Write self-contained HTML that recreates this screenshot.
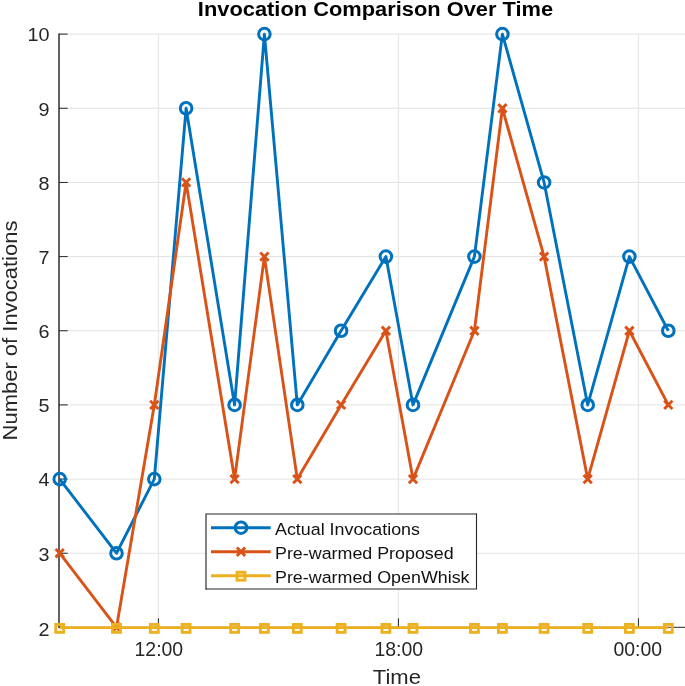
<!DOCTYPE html>
<html lang="en"><head><meta charset="utf-8"><title>Invocation Comparison Over Time</title>
<style>html,body{margin:0;padding:0;background:#fff;overflow:hidden}svg{display:block}text{font-family:"Liberation Sans",Arial,Helvetica,sans-serif;fill:#262626}</style></head><body>
<svg width="685" height="686" viewBox="0 0 685 686">
<rect width="685" height="686" fill="#fff"/>
<g stroke="#e2e2e2" stroke-width="1">
<line x1="158.4" y1="34.12" x2="158.4" y2="627.4"/>
<line x1="398.4" y1="34.12" x2="398.4" y2="627.4"/>
<line x1="638.4" y1="34.12" x2="638.4" y2="627.4"/>
<line x1="59" y1="553.24" x2="685" y2="553.24"/>
<line x1="59" y1="479.08" x2="685" y2="479.08"/>
<line x1="59" y1="404.92" x2="685" y2="404.92"/>
<line x1="59" y1="330.76" x2="685" y2="330.76"/>
<line x1="59" y1="256.6" x2="685" y2="256.6"/>
<line x1="59" y1="182.44" x2="685" y2="182.44"/>
<line x1="59" y1="108.28" x2="685" y2="108.28"/>
<line x1="59" y1="34.12" x2="685" y2="34.12"/>
</g>
<g stroke="#262626" stroke-width="1">
<line x1="59" y1="33.62" x2="59" y2="627.8" stroke-width="1.45"/>
<line x1="58.5" y1="627.3" x2="685" y2="627.3"/>
<line x1="158.4" y1="618.3" x2="158.4" y2="627.4"/>
<line x1="398.4" y1="618.3" x2="398.4" y2="627.4"/>
<line x1="638.4" y1="618.3" x2="638.4" y2="627.4"/>
<line x1="59" y1="627.4" x2="67.7" y2="627.4"/>
<line x1="59" y1="553.24" x2="67.7" y2="553.24"/>
<line x1="59" y1="479.08" x2="67.7" y2="479.08"/>
<line x1="59" y1="404.92" x2="67.7" y2="404.92"/>
<line x1="59" y1="330.76" x2="67.7" y2="330.76"/>
<line x1="59" y1="256.6" x2="67.7" y2="256.6"/>
<line x1="59" y1="182.44" x2="67.7" y2="182.44"/>
<line x1="59" y1="108.28" x2="67.7" y2="108.28"/>
<line x1="59" y1="34.12" x2="67.7" y2="34.12"/>
</g>
<text transform="translate(49.6,635.6) scale(1.03,1)" font-size="19.2" text-anchor="end">2</text>
<text transform="translate(49.6,560.5) scale(1.03,1)" font-size="19.2" text-anchor="end">3</text>
<text transform="translate(49.6,486.4) scale(1.03,1)" font-size="19.2" text-anchor="end">4</text>
<text transform="translate(49.6,412.2) scale(1.03,1)" font-size="19.2" text-anchor="end">5</text>
<text transform="translate(49.6,338.1) scale(1.03,1)" font-size="19.2" text-anchor="end">6</text>
<text transform="translate(49.6,263.9) scale(1.03,1)" font-size="19.2" text-anchor="end">7</text>
<text transform="translate(49.6,189.7) scale(1.03,1)" font-size="19.2" text-anchor="end">8</text>
<text transform="translate(49.6,115.6) scale(1.03,1)" font-size="19.2" text-anchor="end">9</text>
<text transform="translate(49.6,41.4) scale(1.03,1)" font-size="19.2" text-anchor="end">10</text>
<text transform="translate(158.85,656.2) scale(1.008,1)" font-size="19.3" text-anchor="middle">12:00</text>
<text transform="translate(398.8,656.2) scale(1.008,1)" font-size="19.3" text-anchor="middle">18:00</text>
<text transform="translate(637.7,656.2) scale(1.008,1)" font-size="19.3" text-anchor="middle">00:00</text>
<text transform="translate(396.9,684.3) scale(1.075,1)" font-size="20.5" text-anchor="middle">Time</text>
<text transform="translate(17,330.5) rotate(-90) scale(1.072,1)" font-size="20.5" text-anchor="middle">Number of Invocations</text>
<text transform="translate(375.45,16.3) scale(1.0406,1)" font-size="21.0" text-anchor="middle" font-weight="bold" style="fill:#000">Invocation Comparison Over Time</text>
<polyline points="59.7,479.08 116.5,553.24 154.3,479.08 186.1,108.28 234.6,404.92 264.4,34.12 297.3,404.92 341.1,330.76 385.9,256.6 413.0,404.92 474.4,256.6 502.4,34.12 544.1,182.44 587.7,404.92 629.4,256.6 668.3,330.76" fill="none" stroke="#0072BD" stroke-width="2.9" stroke-linejoin="round"/>
<circle cx="59.7" cy="479.08" r="5.8" fill="none" stroke="#0072BD" stroke-width="3.0"/>
<circle cx="116.5" cy="553.24" r="5.8" fill="none" stroke="#0072BD" stroke-width="3.0"/>
<circle cx="154.3" cy="479.08" r="5.8" fill="none" stroke="#0072BD" stroke-width="3.0"/>
<circle cx="186.1" cy="108.28" r="5.8" fill="none" stroke="#0072BD" stroke-width="3.0"/>
<circle cx="234.6" cy="404.92" r="5.8" fill="none" stroke="#0072BD" stroke-width="3.0"/>
<circle cx="264.4" cy="34.12" r="5.8" fill="none" stroke="#0072BD" stroke-width="3.0"/>
<circle cx="297.3" cy="404.92" r="5.8" fill="none" stroke="#0072BD" stroke-width="3.0"/>
<circle cx="341.1" cy="330.76" r="5.8" fill="none" stroke="#0072BD" stroke-width="3.0"/>
<circle cx="385.9" cy="256.6" r="5.8" fill="none" stroke="#0072BD" stroke-width="3.0"/>
<circle cx="413.0" cy="404.92" r="5.8" fill="none" stroke="#0072BD" stroke-width="3.0"/>
<circle cx="474.4" cy="256.6" r="5.8" fill="none" stroke="#0072BD" stroke-width="3.0"/>
<circle cx="502.4" cy="34.12" r="5.8" fill="none" stroke="#0072BD" stroke-width="3.0"/>
<circle cx="544.1" cy="182.44" r="5.8" fill="none" stroke="#0072BD" stroke-width="3.0"/>
<circle cx="587.7" cy="404.92" r="5.8" fill="none" stroke="#0072BD" stroke-width="3.0"/>
<circle cx="629.4" cy="256.6" r="5.8" fill="none" stroke="#0072BD" stroke-width="3.0"/>
<circle cx="668.3" cy="330.76" r="5.8" fill="none" stroke="#0072BD" stroke-width="3.0"/>
<polyline points="59.7,553.24 116.5,627.4 154.3,404.92 186.1,182.44 234.6,479.08 264.4,256.6 297.3,479.08 341.1,404.92 385.9,330.76 413.0,479.08 474.4,330.76 502.4,108.28 544.1,256.6 587.7,479.08 629.4,330.76 668.3,404.92" fill="none" stroke="#D95319" stroke-width="2.9" stroke-linejoin="round"/>
<path d="M55.55 549.09L63.85 557.39M55.55 557.39L63.85 549.09" fill="none" stroke="#D95319" stroke-width="2.9"/>
<path d="M112.35 623.25L120.65 631.55M112.35 631.55L120.65 623.25" fill="none" stroke="#D95319" stroke-width="2.9"/>
<path d="M150.15 400.77L158.45 409.07M150.15 409.07L158.45 400.77" fill="none" stroke="#D95319" stroke-width="2.9"/>
<path d="M181.95 178.29L190.25 186.59M181.95 186.59L190.25 178.29" fill="none" stroke="#D95319" stroke-width="2.9"/>
<path d="M230.45 474.93L238.75 483.23M230.45 483.23L238.75 474.93" fill="none" stroke="#D95319" stroke-width="2.9"/>
<path d="M260.25 252.45L268.55 260.75M260.25 260.75L268.55 252.45" fill="none" stroke="#D95319" stroke-width="2.9"/>
<path d="M293.15 474.93L301.45 483.23M293.15 483.23L301.45 474.93" fill="none" stroke="#D95319" stroke-width="2.9"/>
<path d="M336.95 400.77L345.25 409.07M336.95 409.07L345.25 400.77" fill="none" stroke="#D95319" stroke-width="2.9"/>
<path d="M381.75 326.61L390.05 334.91M381.75 334.91L390.05 326.61" fill="none" stroke="#D95319" stroke-width="2.9"/>
<path d="M408.85 474.93L417.15 483.23M408.85 483.23L417.15 474.93" fill="none" stroke="#D95319" stroke-width="2.9"/>
<path d="M470.25 326.61L478.55 334.91M470.25 334.91L478.55 326.61" fill="none" stroke="#D95319" stroke-width="2.9"/>
<path d="M498.25 104.13L506.55 112.43M498.25 112.43L506.55 104.13" fill="none" stroke="#D95319" stroke-width="2.9"/>
<path d="M539.95 252.45L548.25 260.75M539.95 260.75L548.25 252.45" fill="none" stroke="#D95319" stroke-width="2.9"/>
<path d="M583.55 474.93L591.85 483.23M583.55 483.23L591.85 474.93" fill="none" stroke="#D95319" stroke-width="2.9"/>
<path d="M625.25 326.61L633.55 334.91M625.25 334.91L633.55 326.61" fill="none" stroke="#D95319" stroke-width="2.9"/>
<path d="M664.15 400.77L672.45 409.07M664.15 409.07L672.45 400.77" fill="none" stroke="#D95319" stroke-width="2.9"/>
<line x1="59.7" y1="627.6" x2="668.3" y2="627.6" stroke="#EDB120" stroke-width="2.9"/>
<rect x="55.75" y="624.45" width="7.9" height="7.9" fill="none" stroke="#EDB120" stroke-width="2.9"/>
<rect x="112.55" y="624.45" width="7.9" height="7.9" fill="none" stroke="#EDB120" stroke-width="2.9"/>
<rect x="150.35" y="624.45" width="7.9" height="7.9" fill="none" stroke="#EDB120" stroke-width="2.9"/>
<rect x="182.15" y="624.45" width="7.9" height="7.9" fill="none" stroke="#EDB120" stroke-width="2.9"/>
<rect x="230.65" y="624.45" width="7.9" height="7.9" fill="none" stroke="#EDB120" stroke-width="2.9"/>
<rect x="260.45" y="624.45" width="7.9" height="7.9" fill="none" stroke="#EDB120" stroke-width="2.9"/>
<rect x="293.35" y="624.45" width="7.9" height="7.9" fill="none" stroke="#EDB120" stroke-width="2.9"/>
<rect x="337.15" y="624.45" width="7.9" height="7.9" fill="none" stroke="#EDB120" stroke-width="2.9"/>
<rect x="381.95" y="624.45" width="7.9" height="7.9" fill="none" stroke="#EDB120" stroke-width="2.9"/>
<rect x="409.05" y="624.45" width="7.9" height="7.9" fill="none" stroke="#EDB120" stroke-width="2.9"/>
<rect x="470.45" y="624.45" width="7.9" height="7.9" fill="none" stroke="#EDB120" stroke-width="2.9"/>
<rect x="498.45" y="624.45" width="7.9" height="7.9" fill="none" stroke="#EDB120" stroke-width="2.9"/>
<rect x="540.15" y="624.45" width="7.9" height="7.9" fill="none" stroke="#EDB120" stroke-width="2.9"/>
<rect x="583.75" y="624.45" width="7.9" height="7.9" fill="none" stroke="#EDB120" stroke-width="2.9"/>
<rect x="625.45" y="624.45" width="7.9" height="7.9" fill="none" stroke="#EDB120" stroke-width="2.9"/>
<rect x="664.35" y="624.45" width="7.9" height="7.9" fill="none" stroke="#EDB120" stroke-width="2.9"/>
<rect x="206" y="514" width="270.5" height="75" fill="#fff"/>
<path d="M476.5 513.5V589.4M205.5 589H477" fill="none" stroke="#262626" stroke-width="1.1"/>
<path d="M206 589.4V514H477" fill="none" stroke="#262626" stroke-width="1.15" stroke-linejoin="miter"/>
<line x1="211" y1="527.7" x2="270.7" y2="527.7" stroke="#0072BD" stroke-width="2.9"/>
<circle cx="241" cy="527.7" r="5.8" fill="none" stroke="#0072BD" stroke-width="3.0"/>
<text transform="translate(275.0,535.2) scale(1.058,1)" font-size="16.9" text-anchor="start" style="fill:#111">Actual Invocations</text>
<line x1="211" y1="551.7" x2="270.7" y2="551.7" stroke="#D95319" stroke-width="2.9"/>
<path d="M236.85 547.55L245.15 555.85M236.85 555.85L245.15 547.55" fill="none" stroke="#D95319" stroke-width="2.9"/>
<text transform="translate(275.0,559.2) scale(1.058,1)" font-size="16.9" text-anchor="start" style="fill:#111">Pre-warmed Proposed</text>
<line x1="211" y1="575.7" x2="270.7" y2="575.7" stroke="#EDB120" stroke-width="2.9"/>
<rect x="237.05" y="572.25" width="7.9" height="7.9" fill="none" stroke="#EDB120" stroke-width="2.9"/>
<text transform="translate(275.0,583.2) scale(1.058,1)" font-size="16.9" text-anchor="start" style="fill:#111">Pre-warmed OpenWhisk</text>
</svg></body></html>
